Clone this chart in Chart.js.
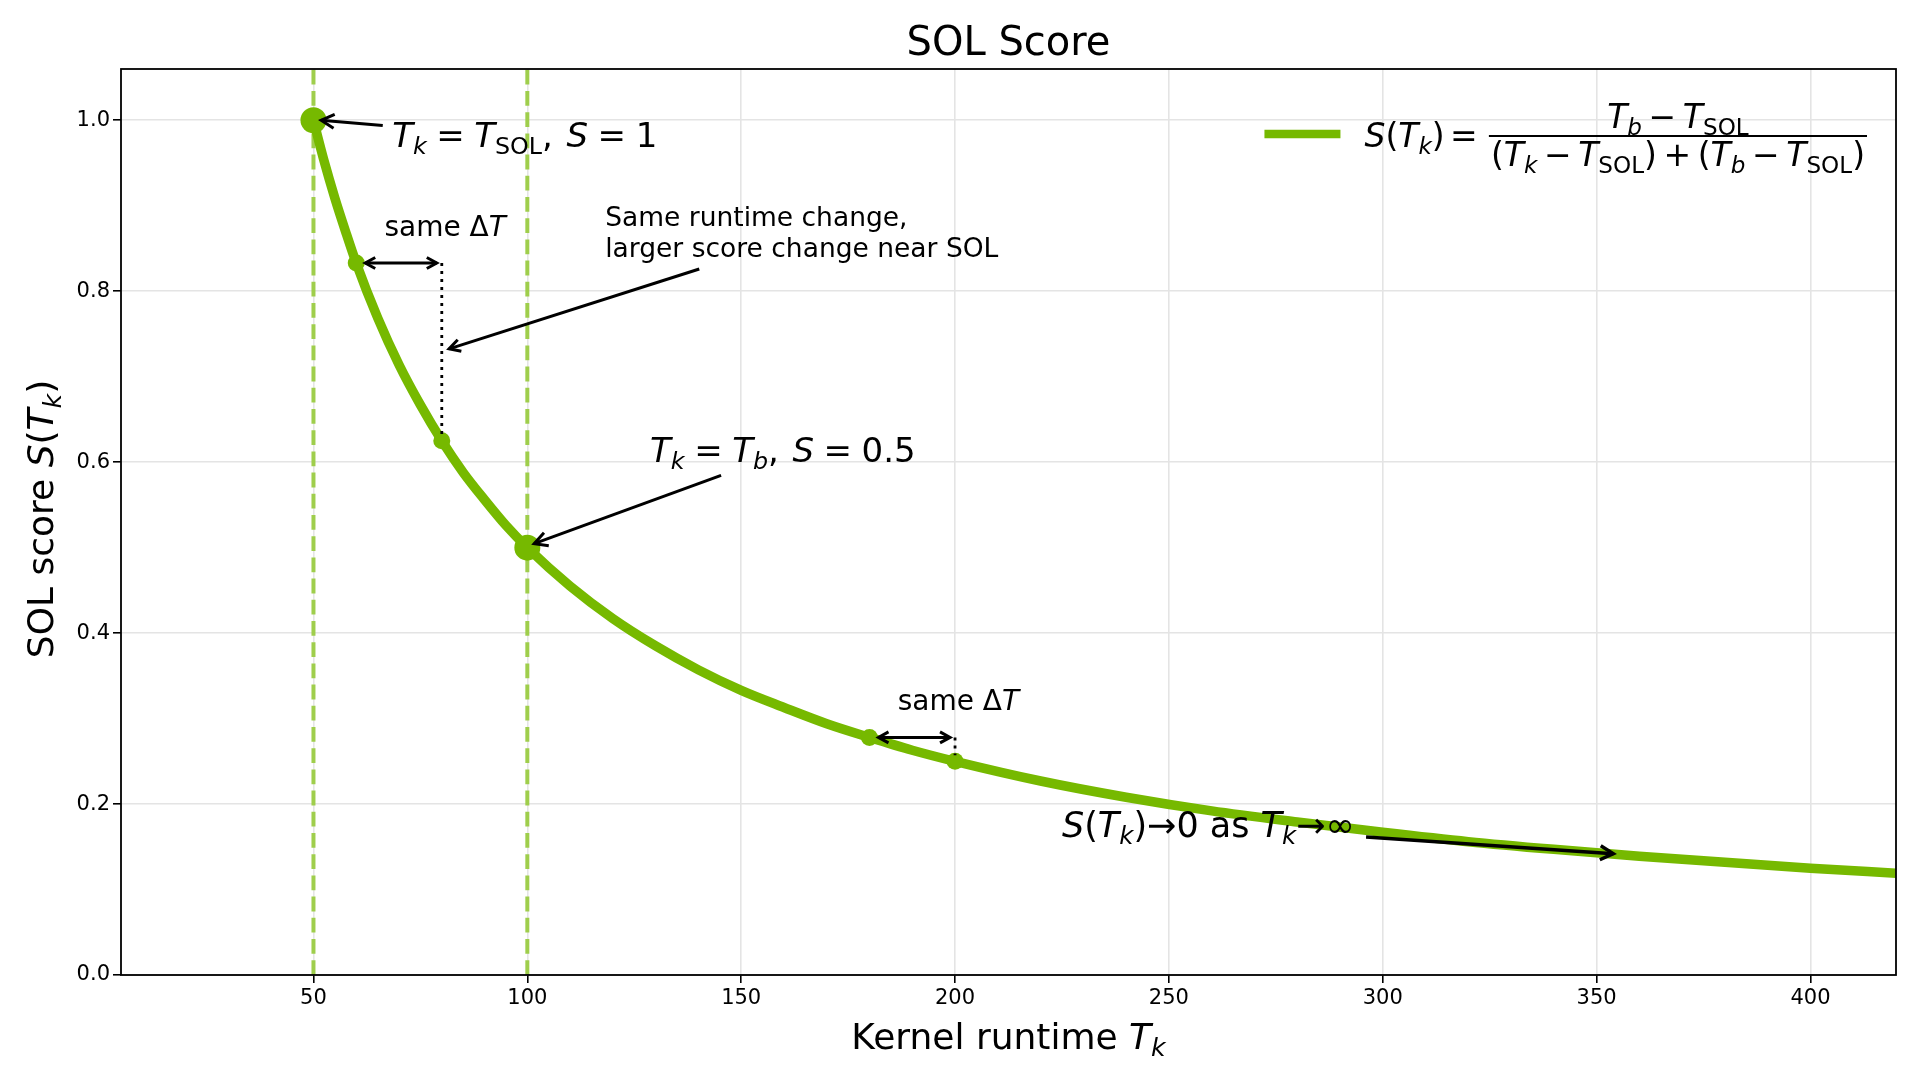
<!DOCTYPE html>
<html><head><meta charset="utf-8">
<script src="https://cdn.jsdelivr.net/npm/chart.js@4.4.1/dist/chart.umd.min.js"></script>
<style>html,body{margin:0;padding:0;background:#fff;}#wrap{width:1920px;height:1080px;}</style>
</head><body><div id="wrap"><canvas id="c" width="1920" height="1080"></canvas></div>
<script>
// ---- data ----
const runtimeMs = [50, 52.5, 55, 57.5, 60, 65, 70, 75, 80, 85, 90, 95, 100, 110, 120, 130, 140, 150, 160, 170, 180, 190, 200, 220, 240, 260, 280, 300, 320, 340, 360, 380, 400, 420];
const solScore  = [1.000, 0.952, 0.909, 0.870, 0.833, 0.769, 0.714, 0.667, 0.625, 0.588, 0.556, 0.526, 0.500, 0.455, 0.417, 0.385, 0.357, 0.333, 0.313, 0.294, 0.278, 0.263, 0.250, 0.227, 0.208, 0.192, 0.179, 0.167, 0.156, 0.147, 0.139, 0.132, 0.125, 0.119];
const keyRuntime = [50, 100];          // T_SOL, T_b
const keyScore   = [1.0, 0.5];
const stepRuntime = [60, 80, 180, 200]; // same delta T pairs
const stepScore   = [0.833, 0.625, 0.278, 0.250];
const refRuntime  = [50, 100];          // dashed reference lines
const xTicks = [50, 100, 150, 200, 250, 300, 350, 400];
const yTicks = [0.0, 0.2, 0.4, 0.6, 0.8, 1.0];

const GREEN = '#76b900', GREEN_LIGHT = '#9fce4c', FONT = '"DejaVu Sans"';

// ---- tiny math-text helpers ----
const I = t => ({t, i: 1}), R = t => ({t}), Sb = t => ({t, s: 1}), SbI = t => ({t, s: 1, i: 1}), Sp = e => ({sp: e});
function fontStr(size, italic) { return (italic ? 'italic ' : '') + size + 'px ' + FONT; }
function layoutRuns(ctx, runs, size) {
  let w = 0; const items = [];
  for (const r of runs) {
    if (r.sp !== undefined) { w += r.sp * size; continue; }
    const sz = r.s ? size * 0.7 : size;
    ctx.font = fontStr(sz, r.i);
    const rw = ctx.measureText(r.t).width;
    items.push({t: r.t, x: w, font: ctx.font, dy: r.s ? size * 0.2 : 0});
    w += rw;
  }
  return {w, items};
}
function drawRuns(ctx, runs, x, y, size, align) {
  const L = layoutRuns(ctx, runs, size);
  const x0 = align === 'center' ? x - L.w / 2 : align === 'right' ? x - L.w : x;
  ctx.textAlign = 'left'; ctx.textBaseline = 'alphabetic';
  for (const it of L.items) { ctx.font = it.font; ctx.fillText(it.t, x0 + it.x, y + it.dy); }
  return L.w;
}
function arrowHead(ctx, tx, ty, fx, fy, len, hw) {
  const a = Math.atan2(ty - fy, tx - fx), c = Math.cos(a), s = Math.sin(a);
  ctx.beginPath();
  ctx.moveTo(tx - len * c + hw * s, ty - len * s - hw * c);
  ctx.lineTo(tx, ty);
  ctx.lineTo(tx - len * c - hw * s, ty - len * s + hw * c);
  ctx.stroke();
}

// ---- annotations (anchors in data units) ----
const eqRel = [Sp(0.28), R('='), Sp(0.28)];
const notes = [
  {lines: [[I('T'), SbI('k'), ...eqRel, I('T'), Sb('SOL'), R(','), Sp(0.4), I('S'), ...eqRel, R('1')]], size: 34, x: 68.4, y: 0.969,
   arrow: {from: [66.2, 0.994], to: [51.8, 1.0], lw: 3, len: 13, hw: 7}},
  {lines: [[R('same '), R('Δ'), I('T')]], size: 28, x: 66.6, y: 0.865},
  {lines: [[R('Same runtime change,')], [R('larger score change near SOL')]], size: 26.5, x: 118.2, y: 0.876, lh: 30.3,
   arrow: {from: [140.2, 0.826], to: [81.7, 0.7326], lw: 3, len: 11, hw: 6}},
  {lines: [[I('T'), SbI('k'), ...eqRel, I('T'), SbI('b'), R(','), Sp(0.4), I('S'), ...eqRel, R('0.5')]], size: 34, x: 128.7, y: 0.600,
   arrow: {from: [145.3, 0.5845], to: [101.6, 0.5046], lw: 3, len: 13, hw: 7}},
  {lines: [[R('same '), R('Δ'), I('T')]], size: 28, x: 186.6, y: 0.3096},
  {lines: [[I('S'), R('('), I('T'), SbI('k'), R(')'), R('→0 as '), I('T'), SbI('k'), R('→∞')]], size: 35, x: 225.0, y: 0.1614,
   arrow: {from: [296.1, 0.1614], to: [353.9, 0.142], lw: 3.5, len: 13, hw: 7}}
];
// same-delta-T brackets: pairs of indices into stepRuntime/stepScore
const brackets = [[0, 1], [2, 3]];

const overlay = {
  id: 'overlay',
  beforeDatasetsDraw(chart) {
    const {ctx, chartArea: a, scales: {x}} = chart;
    ctx.save();
    ctx.strokeStyle = GREEN_LIGHT; ctx.lineWidth = 4; ctx.setLineDash([14.8, 6.4]); ctx.lineCap = 'butt';
    for (const v of refRuntime) {
      const px = x.getPixelForValue(v);
      ctx.beginPath(); ctx.moveTo(px, a.bottom); ctx.lineTo(px, a.top); ctx.stroke();
    }
    ctx.restore();
  },
  afterDatasetsDraw(chart) {
    const {ctx, chartArea: a, scales: {x, y}} = chart;
    const X = v => x.getPixelForValue(v), Y = v => y.getPixelForValue(v);
    ctx.save();
    ctx.fillStyle = '#000'; ctx.strokeStyle = '#000';
    // brackets: double arrow + dotted drop
    for (const [i0, i1] of brackets) {
      const x0 = X(stepRuntime[i0]), x1 = X(stepRuntime[i1]), y0 = Y(stepScore[i0]), y1 = Y(stepScore[i1]);
      ctx.setLineDash([3, 5]); ctx.lineWidth = 2.8; ctx.lineCap = 'butt';
      ctx.beginPath(); ctx.moveTo(x1, y0); ctx.lineTo(x1, y1 - 6); ctx.stroke();
      ctx.setLineDash([]); ctx.lineWidth = 3;
      const lx = x0 + 9, rx = x1 - 5;
      ctx.beginPath(); ctx.moveTo(lx, y0); ctx.lineTo(rx, y0); ctx.stroke();
      arrowHead(ctx, lx, y0, rx, y0, 10, 5.5);
      arrowHead(ctx, rx, y0, lx, y0, 10, 5.5);
    }
    // annotation arrows and texts
    for (const n of notes) {
      if (n.arrow) {
        const A = n.arrow, fx = X(A.from[0]), fy = Y(A.from[1]), tx = X(A.to[0]), ty = Y(A.to[1]);
        ctx.lineWidth = A.lw; ctx.lineCap = 'butt'; ctx.lineJoin = 'miter';
        ctx.beginPath(); ctx.moveTo(fx, fy); ctx.lineTo(tx, ty); ctx.stroke();
        arrowHead(ctx, tx, ty, fx, fy, A.len, A.hw);
      }
      n.lines.forEach((runs, k) => drawRuns(ctx, runs, X(n.x), Y(n.y) + k * (n.lh || 0), n.size, 'left'));
    }
    // frame (spines)
    ctx.lineWidth = 1.8; ctx.strokeStyle = '#000';
    ctx.strokeRect(a.left, a.top, a.right - a.left, a.bottom - a.top);
    // legend (upper right, no frame)
    const legSize = 33, barRight = a.right - 29, barY = a.top + 67;
    const legRel = [Sp(0.16), R('='), Sp(0.16)];
    const head = [I('S'), R('('), I('T'), SbI('k'), R(')'), ...legRel];
    const num = [I('T'), SbI('b'), Sp(0.2), R('−'), Sp(0.2), I('T'), Sb('SOL')];
    const den = [R('('), I('T'), SbI('k'), Sp(0.2), R('−'), Sp(0.2), I('T'), Sb('SOL'), R(')'), Sp(0.2), R('+'), Sp(0.2),
                 R('('), I('T'), SbI('b'), Sp(0.2), R('−'), Sp(0.2), I('T'), Sb('SOL'), R(')')];
    const hw = layoutRuns(ctx, head, legSize).w, nw = layoutRuns(ctx, num, legSize).w, dw = layoutRuns(ctx, den, legSize).w;
    const barW = Math.max(nw, dw) + 4, barLeft = barRight - barW, textLeft = barLeft - 6 - hw;
    const handleRight = textLeft - 24, handleLeft = handleRight - 76;
    ctx.strokeStyle = GREEN; ctx.lineWidth = 8.5;
    ctx.beginPath(); ctx.moveTo(handleLeft, barY - 2); ctx.lineTo(handleRight, barY - 2); ctx.stroke();
    ctx.fillStyle = '#000';
    drawRuns(ctx, head, textLeft, barY + 11, legSize, 'left');
    ctx.fillRect(barLeft, barY - 1, barW, 2);
    drawRuns(ctx, num, barLeft + barW / 2, barY - 8, legSize, 'center');
    drawRuns(ctx, den, barLeft + barW / 2, barY + 30, legSize, 'center');
    // title
    const cx = (a.left + a.right) / 2;
    ctx.font = fontStr(40); ctx.textAlign = 'center'; ctx.textBaseline = 'alphabetic';
    ctx.fillText('SOL Score', cx, 55);
    // x axis label
    drawRuns(ctx, [R('Kernel runtime '), I('T'), SbI('k')], cx, 1049, 36, 'center');
    // y axis label
    ctx.save();
    ctx.translate(53.3, (a.top + a.bottom) / 2 - 3);
    ctx.rotate(-Math.PI / 2);
    drawRuns(ctx, [R('SOL score '), I('S'), R('('), I('T'), SbI('k'), R(')')], 0, 0, 36, 'center');
    ctx.restore();
    ctx.restore();
  }
};

const tickFont = {family: 'DejaVu Sans', size: 21};
new Chart(document.getElementById('c').getContext('2d'), {
  type: 'scatter',
  data: {datasets: [
    {label: 'curve', data: runtimeMs.map((v, i) => ({x: v, y: solScore[i]})), showLine: true, borderColor: GREEN, borderWidth: 9.5,
     pointRadius: 0, cubicInterpolationMode: 'monotone', fill: false, order: 2, borderCapStyle: 'butt'},
    {label: 'key', data: keyRuntime.map((v, i) => ({x: v, y: keyScore[i]})), pointRadius: 13, pointBackgroundColor: GREEN,
     pointBorderWidth: 0, showLine: false, order: 1},
    {label: 'steps', data: stepRuntime.map((v, i) => ({x: v, y: stepScore[i]})), pointRadius: 8.5, pointBackgroundColor: GREEN,
     pointBorderWidth: 0, showLine: false, order: 0}
  ]},
  options: {
    responsive: false, animation: false, devicePixelRatio: 1, events: [],
    layout: {padding: {top: 69, right: 24, left: 0, bottom: 0}},
    plugins: {legend: {display: false}, title: {display: false}, tooltip: {enabled: false}},
    scales: {
      x: {type: 'linear', min: 5, max: 420,
          afterBuildTicks: s => { s.ticks = xTicks.map(v => ({value: v})); },
          afterFit: s => { s.height = 105; },
          grid: {color: '#e4e4e4', lineWidth: 1.6, tickColor: '#000', tickLength: 8, tickWidth: 1.6},
          border: {display: false},
          ticks: {font: tickFont, color: '#000', padding: 3, maxRotation: 0, autoSkip: false, callback: v => String(v)}},
      y: {type: 'linear', min: 0, max: 1.06,
          afterBuildTicks: s => { s.ticks = yTicks.map(v => ({value: v})); },
          afterFit: s => { s.width = 121; },
          grid: {color: '#e4e4e4', lineWidth: 1.6, tickColor: '#000', tickLength: 8, tickWidth: 1.6},
          border: {display: false},
          ticks: {font: tickFont, color: '#000', padding: 3, autoSkip: false, callback: v => Number(v).toFixed(1)}}
    }
  },
  plugins: [overlay]
});
</script></body></html>
